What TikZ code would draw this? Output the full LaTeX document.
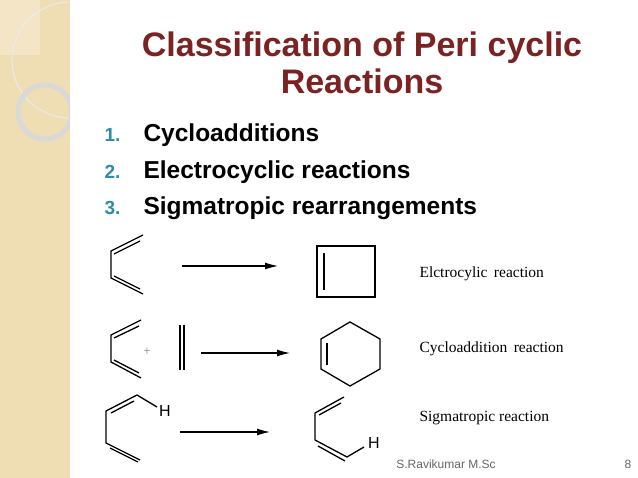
\documentclass[tikz,border=0pt]{standalone}
\usepackage{fontspec}
\setmainfont{Liberation Serif}
\newfontfamily\arial{Liberation Sans}
\usetikzlibrary{arrows.meta}
\definecolor{panel}{HTML}{EFDDB3}
\definecolor{titlered}{HTML}{7B2222}
\definecolor{teal}{HTML}{2E8CA8}
\tikzset{bond/.style={line width=1.3pt,line join=miter},
arr/.style={line width=1.1pt,-{Latex[length=13pt,width=7pt]}},
lbl/.style={anchor=west,font=\fontsize{15.5}{18}\selectfont},
item/.style={anchor=west,font=\arial\bfseries\fontsize{24.5}{28}\selectfont},
num/.style={anchor=west,font=\arial\bfseries\fontsize{19}{22}\selectfont,text=teal}}
\begin{document}
\begin{tikzpicture}[x=1pt,y=-1pt]
\useasboundingbox (0,0) rectangle (638,478);
\fill[white] (0,0) rectangle (638,478);
\fill[panel] (0,0) rectangle (70,478);
\begin{scope}
\clip (0,0) rectangle (70,478);
\fill[white,opacity=0.25] (0,0) rectangle (40,55);
\draw[white!85!gray,line width=1pt] (70,60) circle (58);
\draw[gray!30,line width=5pt] (45,112) circle (27);
\end{scope}
\node[font=\arial\bfseries\fontsize{34}{37}\selectfont,text=titlered,align=center] (t) at (362,63) {Classification of Peri cyclic\\Reactions};
\node[num] (n1) at (101,135) {1.};
\node[num] (n2) at (101,172) {2.};
\node[num] (n3) at (101,208) {3.};
\node[item] (i1) at (140,135) {Cycloadditions};
\node[item] (i2) at (140,172) {Electrocyclic reactions};
\node[item] (i3) at (140,208) {Sigmatropic rearrangements};
% row 1
\draw[bond] (143,235)--(111,251)--(111,278)--(143,294);
\draw[bond] (140,241)--(114,254);
\draw[bond] (140,289)--(114,276);
\coordinate (a1s) at (182,266); \coordinate (a1e) at (278,266);
\draw[arr] (a1s)--(a1e);
\draw[bond] (317,246) rectangle (375,297);
\draw[bond] (324,253)--(324,290);
\node[lbl] (l1) at (416,274) {Elctrocylic\, reaction};
% row 2
\draw[bond] (141,320)--(111,335)--(111,362)--(141,378);
\draw[bond] (139,326)--(114,338);
\draw[bond] (139,373)--(114,360);
\node[text=gray,font=\fontsize{13}{13}\selectfont] (p) at (147,352) {+};
\draw[bond] (180,325)--(180,370);
\draw[bond] (184,325)--(184,370);
\coordinate (a2s) at (201,353); \coordinate (a2e) at (290,353);
\draw[arr] (a2s)--(a2e);
\draw[bond] (350,322)--(380,339)--(380,369)--(350,386)--(321,369)--(321,339)--cycle;
\draw[bond] (327,343)--(327,365);
\node[lbl] (l2) at (416,349) {Cycloaddition\, reaction};
% row 3
\draw[bond] (157,407)--(137,395)--(106,411)--(106,443)--(140,460);
\draw[bond] (134,401)--(111,413);
\draw[bond] (110,448)--(138,462);
\node[font=\arial\fontsize{16}{16}\selectfont] (h1) at (165,411) {H};
\coordinate (a3s) at (180,432); \coordinate (a3e) at (270,432);
\draw[arr] (a3s)--(a3e);
\draw[bond] (344,397)--(315,413)--(315,440)--(347,457)--(364,447);
\draw[bond] (341,403)--(319,415);
\draw[bond] (318,446)--(345,461);
\node[font=\arial\fontsize{16}{16}\selectfont] (h2) at (374,443) {H};
\node[lbl] (l3) at (416,418) {Sigmatropic reaction};
\node[font=\arial\fontsize{12}{14}\selectfont,text=gray!80!black] (f) at (446,464) {S.Ravikumar M.Sc};
\node[font=\arial\fontsize{12}{14}\selectfont,text=gray!80!black] (pg) at (628,464) {8};
\end{tikzpicture}
\end{document}
